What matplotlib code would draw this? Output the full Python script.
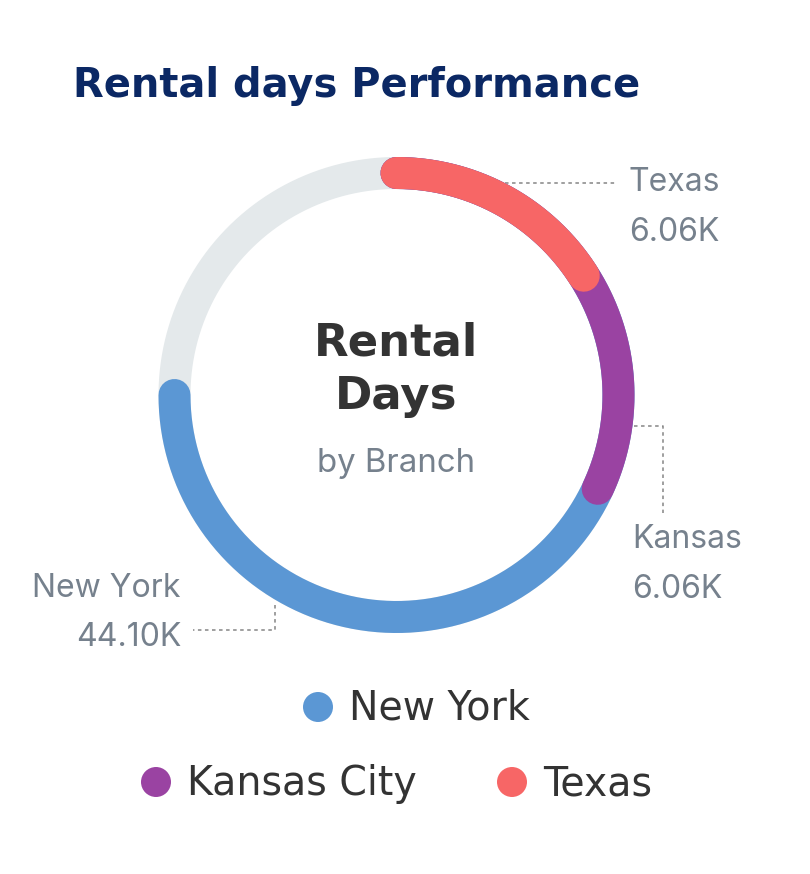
import numpy as np
import matplotlib
matplotlib.use("Agg")
import matplotlib.pyplot as plt

# ---- data ----
branches = ["New York", "Kansas City", "Texas"]
label_names = ["New York", "Kansas", "Texas"]
rental_days_k = [44.10, 6.06, 6.06]
# arc sweep (degrees) of each branch as read from the ring
arc_sweep_deg = [155.0, 57.5, 57.5]
colors = ["#5b97d4", "#9a43a2", "#f76666"]

TRACK = "#e4e9eb"
NAVY = "#0b2864"
DARK = "#333333"
GRAY = "#76818d"
FONT = "Inter"
WIDE = "DejaVu Sans"

W, H = 810, 874
fig = plt.figure(figsize=(W / 100, H / 100), dpi=100)
ax = fig.add_axes([0, 0, 1, 1])
ax.set_xlim(0, W)
ax.set_ylim(H, 0)
ax.axis("off")

px = 0.72  # px -> pt
cx, cy, R = 396.5, 395.0, 222.0
ring_lw = 32 * px

def arc(a0, a1, n=400):
    t = np.radians(np.linspace(a0, a1, n))
    return cx + R * np.sin(t), cy - R * np.cos(t)

# background track
x, y = arc(0, 360)
ax.plot(x, y, color=TRACK, lw=ring_lw, solid_capstyle="butt", zorder=1)

# segments: drawn clockwise from top in order Texas, Kansas, New York
order = [2, 1, 0]
ends = np.cumsum([arc_sweep_deg[i] for i in order])
for k in range(len(order) - 1, -1, -1):
    i = order[k]
    x, y = arc(0, ends[k])
    ax.plot(x, y, color=colors[i], lw=ring_lw, solid_capstyle="round", zorder=2 + (len(order) - k))

# centre text
ax.text(cx, 356, "Rental", ha="center", va="baseline", fontsize=45 * px,
        fontweight="bold", color=DARK, family=WIDE)
ax.text(cx, 409, "Days", ha="center", va="baseline", fontsize=45 * px,
        fontweight="bold", color=DARK, family=WIDE)
ax.text(cx, 472, "by Branch", ha="center", va="baseline", fontsize=33 * px,
        color=GRAY, family=FONT)

# title
ax.text(73, 97, "Rental days Performance", ha="left", va="baseline",
        fontsize=40 * px, fontweight="bold", color=NAVY, family=WIDE)

# leader lines
lead = dict(color="#8a8a8a", lw=1.6 * px, dashes=(2.2, 2.2), zorder=0.5)
ax.plot([505, 617], [183, 183], **lead)
ax.plot([634, 663, 663], [426, 426, 513], **lead)
ax.plot([275, 275, 193], [605, 630, 630], **lead)

lab_fs = 32 * px
def fmt(v):
    return f"{v:.2f}K"

# Texas
ax.text(629, 191, label_names[2], ha="left", va="baseline", fontsize=lab_fs, color=GRAY, family=FONT)
ax.text(629, 241, fmt(rental_days_k[2]), ha="left", va="baseline", fontsize=lab_fs, color=GRAY, family=FONT)
# Kansas
ax.text(632, 548, label_names[1], ha="left", va="baseline", fontsize=lab_fs, color=GRAY, family=FONT)
ax.text(632, 598, fmt(rental_days_k[1]), ha="left", va="baseline", fontsize=lab_fs, color=GRAY, family=FONT)
# New York
ax.text(181, 597, label_names[0], ha="right", va="baseline", fontsize=lab_fs, color=GRAY, family=FONT)
ax.text(181, 646, fmt(rental_days_k[0]), ha="right", va="baseline", fontsize=lab_fs, color=GRAY, family=FONT)

# legend
leg_fs = 39.5 * px
leg_pos = [(318, 707), (156, 782), (512, 782)]
for i, (lx, ly) in enumerate(leg_pos):
    ax.scatter([lx], [ly], s=(30 * px) ** 2, color=colors[i], edgecolors="none", zorder=5)
    ax.text(lx + 31, ly + 13, branches[i], ha="left", va="baseline", fontsize=leg_fs,
            color=DARK, family=WIDE)

fig.savefig("out.png", dpi=100, facecolor="white")
